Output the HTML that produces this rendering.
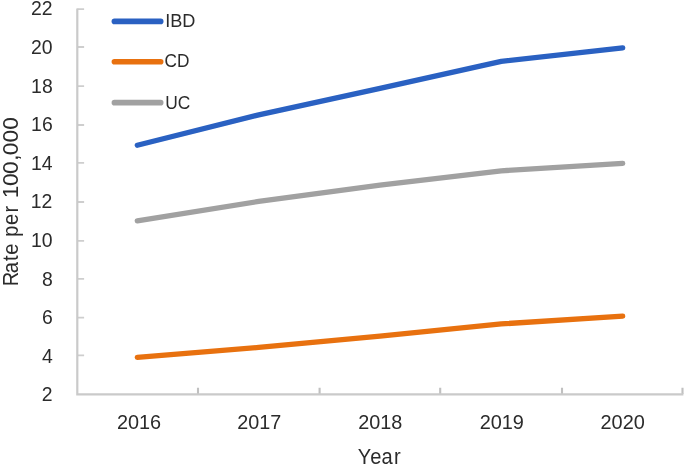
<!DOCTYPE html>
<html lang="en">
<head>
<meta charset="utf-8">
<title>Rate per 100,000 by Year</title>
<style>
html,body{margin:0;padding:0;background:#fff;}
body{width:685px;height:466px;overflow:hidden;}
svg{display:block;}
text{font-family:"Liberation Sans",sans-serif;fill:#2b2b2b;}
.tick{font-size:19.4px;}
.leg{font-size:18.9px;}
.ttl{font-size:21.9px;}
.ttl2{font-size:22.3px;}
.ax{stroke:#cacaca;stroke-width:2.2;fill:none;}
.ty{stroke:#cecece;stroke-width:1.8;fill:none;}
.tx{stroke:#c0c0c0;stroke-width:2.1;fill:none;}
</style>
</head>
<body>
<svg width="685" height="466" viewBox="0 0 685 466">
<rect width="685" height="466" fill="#ffffff"/>
<!-- axes -->
<path class="ty" d="M77.3 9.2H84.1M77.3 47H84.1M77.3 86.1H84.1M77.3 125H84.1M77.3 162.9H84.1M77.3 202H84.1M77.3 240.8H84.1M77.3 278.8H84.1M77.3 317.6H84.1M77.3 355.3H84.1"/>
<path class="tx" d="M198 394V387.8M319.6 394V387.8M440.2 394V387.8M562 394V387.8M682.5 394V387.8"/>
<path class="ax" d="M77.3 8.4V394.4H683.4"/>
<!-- y tick labels -->
<g class="tick" text-anchor="end">
<text x="52.55" y="15.15">22</text>
<text x="52.5" y="54.1">20</text>
<text x="52.7" y="93.1">18</text>
<text x="52.7" y="131.25">16</text>
<text x="52.6" y="169.9">14</text>
<text x="52.4" y="208.4">12</text>
<text x="52.6" y="246.9">10</text>
<text x="52.9" y="286.35">8</text>
<text x="52.9" y="323.5">6</text>
<text x="52.85" y="362.75">4</text>
<text x="52.65" y="401.15">2</text>
</g>
<!-- x tick labels -->
<g class="tick" text-anchor="middle">
<text x="139" y="429.2" textLength="44.2" lengthAdjust="spacingAndGlyphs">2016</text>
<text x="259.2" y="429.2" textLength="44" lengthAdjust="spacingAndGlyphs">2017</text>
<text x="380.2" y="429.2" textLength="44.1" lengthAdjust="spacingAndGlyphs">2018</text>
<text x="501.8" y="429.2" textLength="44.3" lengthAdjust="spacingAndGlyphs">2019</text>
<text x="622.7" y="429.2" textLength="44.3" lengthAdjust="spacingAndGlyphs">2020</text>
</g>
<!-- axis titles -->
<text class="ttl" transform="scale(0.92 1)" x="388.9 402.5 414.6 428.4" y="464.25">Year</text>
<g class="ttl2" transform="translate(17.5 0) rotate(-90)">
<text id="w1" transform="scale(0.9045 1)" x="-316.53 -302.09 -288.56 -281.55" y="0">Rate</text>
<text id="w2" transform="scale(0.9 1)" x="-262.94 -250.11 -236.2" y="0">per</text>
<text id="w3" style="font-size:22.6px" x="-198.3 -186.0 -174.0 -160.8 -155.3 -142.5 -129.7" y="0">100,000</text>
</g>
<!-- series -->
<g fill="none" stroke-width="5.3" stroke-linecap="round" stroke-linejoin="round">
<polyline stroke="#2a61c2" points="137.3,145.2 258.75,114.9 380,88.3 501.25,61.4 622.7,47.9"/>
<polyline stroke="#a1a1a1" points="137.3,220.8 258.75,201.4 380,185.2 501.25,170.8 622.7,163.4"/>
<polyline stroke="#e8710f" points="137.3,357.3 258.75,347.4 380,336.1 501.25,323.9 622.7,316.2"/>
</g>
<!-- legend -->
<g fill="none" stroke-width="5.6" stroke-linecap="round">
<path stroke="#2a61c2" d="M114.4 21.4H160.7"/>
<path stroke="#e8710f" d="M114.4 61.7H160.7"/>
<path stroke="#a1a1a1" d="M114.4 102.65H160.7"/>
</g>
<g class="leg">
<text id="l1" x="165.2" y="27.3" textLength="30.2" lengthAdjust="spacingAndGlyphs">IBD</text>
<text id="l2" x="164.6" y="67.1" textLength="24.9" lengthAdjust="spacingAndGlyphs">CD</text>
<text id="l3" x="165.2" y="108.8" textLength="25.1" lengthAdjust="spacingAndGlyphs">UC</text>
</g>
</svg>
</body>
</html>
